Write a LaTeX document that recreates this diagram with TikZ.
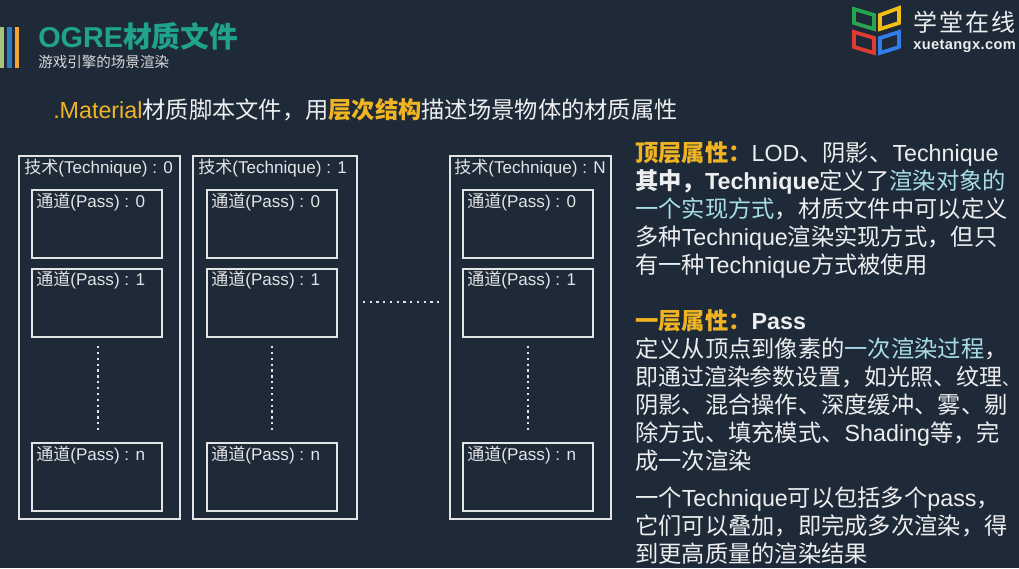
\documentclass[tikz,border=0pt]{standalone}
\usepackage{fontspec}
\setmainfont{Liberation Sans}
\newfontfamily\cjk{Noto Sans CJK SC}
\newcommand{\cn}[1]{{\cjk #1}}
\definecolor{slidebg}{RGB}{31,42,56}
\definecolor{titleteal}{RGB}{31,163,138}
\definecolor{subgrey}{RGB}{214,216,218}
\definecolor{bodywhite}{RGB}{236,238,240}
\definecolor{boxwhite}{RGB}{226,228,230}
\definecolor{keyyellow}{RGB}{240,180,35}
\definecolor{keycyan}{RGB}{168,220,232}
\tikzset{
  bodytext/.style={font=\fontsize{17.45pt}{20pt}\selectfont, text=bodywhite, anchor=base west, inner sep=0pt},
  boxlabel/.style={font=\fontsize{12.8pt}{15pt}\selectfont, text=boxwhite, anchor=base west, inner sep=0pt},
  techbox/.style={draw=boxwhite, line width=1.5pt, anchor=north west, inner sep=0pt, outer sep=0pt, minimum width=120.5pt, minimum height=272.5pt},
  passbox/.style={draw=boxwhite, line width=1.5pt, anchor=north west, inner sep=0pt, outer sep=0pt, minimum width=97.5pt, minimum height=51pt},
  passdots/.style={draw=boxwhite, line width=1.7pt, dash pattern={on 1.7pt off 2.7pt}},
  rowdots/.style={draw=boxwhite, line width=1.7pt, dash pattern={on 1.7pt off 3.36pt}},
  logoframe/.style={line width=2.8pt, line join=miter},
}
\begin{document}
\begin{tikzpicture}[x=0.75pt,y=0.75pt,yscale=-1,xscale=1]
\useasboundingbox (0,0) rectangle (1019,568);
%Background
\fill [slidebg] (0,0) rectangle (1019,568);
%Title bars
\fill [color={rgb, 255:red, 170; green, 195; blue, 120 }] (0,27) rectangle (3.5,68);
\fill [color={rgb, 255:red, 45; green, 125; blue, 190 }] (7,27) rectangle (12,68);
\fill [color={rgb, 255:red, 240; green, 165; blue, 50 }] (14.5,27) rectangle (19,68);
%Title
\node [anchor=base west, inner sep=0pt, text=titleteal, font=\fontsize{21.6pt}{26pt}\selectfont\bfseries] (title) at (38,47) {OGRE\cn{材质文件}};
\node [anchor=base west, inner sep=0pt, text=subgrey, font=\fontsize{10.9pt}{13pt}\selectfont] (subtitle) at (38,67) {\cn{游戏引擎的场景渲染}};
%Logo
\draw [logoframe, color={rgb, 255:red, 40; green, 165; blue, 80 }] (854,9) -- (874,15) -- (874,29) -- (854,23) -- cycle;
\draw [logoframe, color={rgb, 255:red, 245; green, 190; blue, 20 }] (880,15) -- (899,8) -- (899,23) -- (880,29) -- cycle;
\draw [logoframe, color={rgb, 255:red, 225; green, 60; blue, 50 }] (854,32) -- (874,38) -- (874,53) -- (854,47) -- cycle;
\draw [logoframe, color={rgb, 255:red, 50; green, 125; blue, 235 }] (880,38) -- (899,32) -- (899,47) -- (880,53) -- cycle;
\node [anchor=base west, inner sep=0pt, text=bodywhite, font=\fontsize{18pt}{22pt}\selectfont] (logocn) at (913,31) {\cjk\addfontfeature{LetterSpace=8}学堂在线};
\node [anchor=base west, inner sep=0pt, text=bodywhite, font=\fontsize{11pt}{13pt}\selectfont\bfseries] (logoen) at (913,49) {\addfontfeature{LetterSpace=2.5}xuetangx.com};
%Heading line
\node [bodytext] (heading) at (53,118) {\textcolor{keyyellow}{.Material}\cn{材质脚本文件，用\textcolor{keyyellow}{\bfseries 层次结构}描述场景物体的材质属性}};

%Technique 0
\node [techbox] (tech0) at (19,156) {};
\node [boxlabel] (techlabel0) at (24,173) {\cn{技术}(Technique) : 0};
\node [passbox] (pass00) at (32,190) {};
\node [boxlabel] (passlabel00) at (36,207) {\cn{通道}(Pass) : 0};
\node [passbox] (pass01) at (32,268.5) {};
\node [boxlabel] (passlabel01) at (36,285) {\cn{通道}(Pass) : 1};
\node [passbox] (pass0n) at (32,443) {};
\node [boxlabel] (passlabel0n) at (36,460) {\cn{通道}(Pass) : n};
\coordinate (dots0a) at (98,345.9);
\coordinate (dots0b) at (98,430.1);
\draw [passdots] (dots0a) -- (dots0b);

%Technique 1
\node [techbox, minimum width=123pt] (tech1) at (193,156) {};
\node [boxlabel] (techlabel1) at (198,173) {\cn{技术}(Technique) : 1};
\node [passbox] (pass10) at (207,190) {};
\node [boxlabel] (passlabel10) at (211,207) {\cn{通道}(Pass) : 0};
\node [passbox] (pass11) at (207,268.5) {};
\node [boxlabel] (passlabel11) at (211,285) {\cn{通道}(Pass) : 1};
\node [passbox] (pass1n) at (207,443) {};
\node [boxlabel] (passlabel1n) at (211,460) {\cn{通道}(Pass) : n};
\coordinate (dots1a) at (272,345.9);
\coordinate (dots1b) at (272,430.1);
\draw [passdots] (dots1a) -- (dots1b);

%Technique N
\node [techbox] (techN) at (450,156) {};
\node [boxlabel] (techlabelN) at (454,173) {\cn{技术}(Technique) : N};
\node [passbox] (passN0) at (463,190) {};
\node [boxlabel] (passlabelN0) at (467,207) {\cn{通道}(Pass) : 0};
\node [passbox] (passN1) at (463,268.5) {};
\node [boxlabel] (passlabelN1) at (467,285) {\cn{通道}(Pass) : 1};
\node [passbox] (passNn) at (463,443) {};
\node [boxlabel] (passlabelNn) at (467,460) {\cn{通道}(Pass) : n};
\coordinate (dotsNa) at (528,345.9);
\coordinate (dotsNb) at (528,430.1);
\draw [passdots] (dotsNa) -- (dotsNb);

%Dots between techniques
\coordinate (rowa) at (362.9,302);
\coordinate (rowb) at (439.1,302);
\draw [rowdots] (rowa) -- (rowb);

%Right text
\node [bodytext] (top1) at (635,161) {\textcolor{keyyellow}{\cn{\bfseries 顶层属性：}}LOD\cn{、阴影、}Technique};
\node [bodytext] (top2) at (635,189) {\cn{\bfseries 其中，}\textbf{Technique}\cn{定义了\textcolor{keycyan}{渲染对象的}}};
\node [bodytext] (top3) at (635,217) {\cn{\textcolor{keycyan}{一个实现方式}，材质文件中可以定义}};
\node [bodytext] (top4) at (635,245) {\cn{多种}Technique\cn{渲染实现方式，但只}};
\node [bodytext] (top5) at (635,273) {\cn{有一种}Technique\cn{方式被使用}};
\node [bodytext] (layer1) at (635,329) {\textcolor{keyyellow}{\cn{\bfseries 一层属性：}}\textbf{Pass}};
\node [bodytext] (layer2) at (635,357) {\cn{定义从顶点到像素的\textcolor{keycyan}{一次渲染过程}，}};
\node [bodytext, font=\fontsize{17.2pt}{20pt}\selectfont] (layer3) at (635,385) {\cn{即通过渲染参数设置，如光照、纹理{\fontsize{12.7pt}{15pt}\selectfont 、}}};
\node [bodytext] (layer4) at (635,413) {\cn{阴影、混合操作、深度缓冲、雾、剔}};
\node [bodytext] (layer5) at (635,441) {\cn{除方式、填充模式、}Shading\cn{等，完}};
\node [bodytext] (layer6) at (635,469) {\cn{成一次渲染}};
\node [bodytext] (note1) at (635,506) {\cn{一个}Technique\cn{可以包括多个}pass\cn{，}};
\node [bodytext] (note2) at (635,534) {\cn{它们可以叠加，即完成多次渲染，得}};
\node [bodytext] (note3) at (635,562) {\cn{到更高质量的渲染结果}};
\end{tikzpicture}
\end{document}
